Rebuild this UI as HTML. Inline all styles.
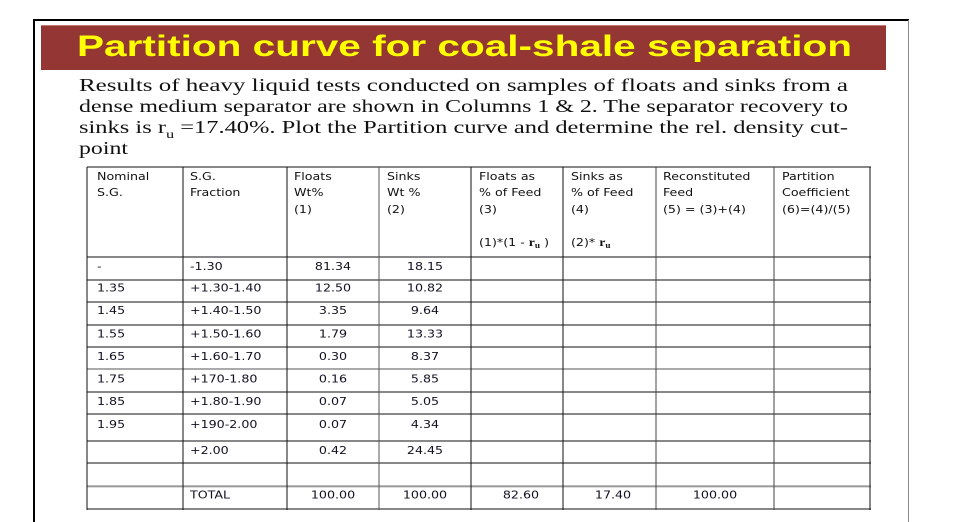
<!DOCTYPE html>
<html>
<head>
<meta charset="utf-8">
<style>
html,body{margin:0;padding:0;background:#fff;}
svg{display:block;}
.h{font-family:"DejaVu Sans","Liberation Sans",sans-serif;font-size:11px;fill:#111;}
.d{font-family:"DejaVu Sans","Liberation Sans",sans-serif;font-size:11px;fill:#111122;}
.p{font-family:"Liberation Serif","Times New Roman",serif;font-size:18px;fill:#111;}
.sr{font-family:"Liberation Serif",serif;}
</style>
</head>
<body>
<svg width="979" height="522" viewBox="0 0 979 522" xmlns="http://www.w3.org/2000/svg">
  <rect x="0" y="0" width="979" height="522" fill="#fff"/>
  <!-- frame -->
  <rect x="33" y="19" width="876" height="2" fill="#000"/>
  <rect x="33" y="19" width="2" height="503" fill="#000"/>
  <rect x="908" y="20" width="1" height="502" fill="#888"/>
  <!-- title bar -->
  <rect x="41" y="25" width="845" height="45" fill="#943634"/>
  <rect x="41" y="25" width="845" height="1" fill="#c87a78"/>
  <text x="77" y="56" font-family="Liberation Sans, DejaVu Sans, sans-serif" font-weight="bold" font-size="30" fill="#ffff00" textLength="775" lengthAdjust="spacingAndGlyphs">Partition curve for coal-shale separation</text>
  <!-- paragraph -->
  <text class="p" x="79" y="91" textLength="769" lengthAdjust="spacingAndGlyphs">Results of heavy liquid tests conducted on samples of floats and sinks from a</text>
  <text class="p" x="79" y="112" textLength="769" lengthAdjust="spacingAndGlyphs">dense medium separator are shown in Columns 1 &amp; 2. The separator recovery to</text>
  <text class="p" x="79" y="133" textLength="769" lengthAdjust="spacingAndGlyphs">sinks is r<tspan dy="5" font-size="12">u</tspan><tspan dy="-5"> =17.40%. Plot the Partition curve and determine the rel. density cut-</tspan></text>
  <text class="p" x="79" y="154" textLength="49" lengthAdjust="spacingAndGlyphs">point</text>

  <!-- table lines -->
  <g stroke="#111" stroke-width="1" shape-rendering="crispEdges">
    <line x1="87" y1="167" x2="871" y2="167"/>
    <line x1="87" y1="257" x2="871" y2="257"/>
    <line x1="87" y1="280" x2="871" y2="280"/>
    <line x1="87" y1="302" x2="871" y2="302"/>
    <line x1="87" y1="325" x2="871" y2="325"/>
    <line x1="87" y1="347" x2="871" y2="347"/>
    <line x1="87" y1="369" x2="871" y2="369" stroke="#555"/>
    <line x1="87" y1="392" x2="871" y2="392"/>
    <line x1="87" y1="414" x2="871" y2="414"/>
    <line x1="87" y1="441" x2="871" y2="441"/>
    <line x1="87" y1="463" x2="871" y2="463"/>
    <line x1="87" y1="486" x2="871" y2="486" stroke="#777"/>
    <line x1="87" y1="487" x2="871" y2="487" stroke="#bbb"/>
    <line x1="87" y1="509" x2="871" y2="509"/>
    <line x1="87" y1="167" x2="87" y2="510"/>
    <line x1="183" y1="167" x2="183" y2="510"/>
    <line x1="287" y1="167" x2="287" y2="510"/>
    <line x1="379" y1="167" x2="379" y2="510" stroke="#555"/>
    <line x1="471" y1="167" x2="471" y2="510"/>
    <line x1="563" y1="167" x2="563" y2="510"/>
    <line x1="656" y1="167" x2="656" y2="510" stroke="#444"/>
    <line x1="774" y1="167" x2="774" y2="510" stroke="#444"/>
    <line x1="870" y1="167" x2="870" y2="510"/>
  </g>

  <!-- header (horizontally stretched 1.15) -->
  <g class="h" transform="scale(1.15,1)">
    <text x="84.35" y="180">Nominal</text>
    <text x="84.35" y="196">S.G.</text>
    <text x="165.22" y="180">S.G.</text>
    <text x="165.22" y="196">Fraction</text>
    <text x="255.65" y="180">Floats</text>
    <text x="255.65" y="196">Wt%</text>
    <text x="255.65" y="213">(1)</text>
    <text x="336.52" y="180">Sinks</text>
    <text x="336.52" y="196">Wt %</text>
    <text x="336.52" y="213">(2)</text>
    <text x="416.52" y="180">Floats as</text>
    <text x="416.52" y="196">% of Feed</text>
    <text x="416.52" y="213">(3)</text>
    <text x="416.52" y="246">(1)*(1 - <tspan class="sr" font-size="12" font-weight="bold">r</tspan><tspan class="sr" font-size="8" font-weight="bold" dy="2">u</tspan><tspan dy="-2">  )</tspan></text>
    <text x="496.52" y="180">Sinks as</text>
    <text x="496.52" y="196">% of Feed</text>
    <text x="496.52" y="213">(4)</text>
    <text x="496.52" y="246">(2)* <tspan class="sr" font-size="12" font-weight="bold">r</tspan><tspan class="sr" font-size="8" font-weight="bold" dy="2">u</tspan></text>
    <text x="576.52" y="180">Reconstituted</text>
    <text x="576.52" y="196">Feed</text>
    <text x="576.52" y="213">(5) = (3)+(4)</text>
    <text x="680" y="180">Partition</text>
    <text x="680" y="196">Coefficient</text>
    <text x="680" y="213">(6)=(4)/(5)</text>
  </g>

  <!-- data -->
  <g class="d" transform="scale(1.15,1)">
    <text x="84.35" y="270">-</text>
    <text x="165.22" y="270">-1.30</text>
    <text x="289.57" y="270" text-anchor="middle">81.34</text>
    <text x="369.57" y="270" text-anchor="middle">18.15</text>

    <text x="84.35" y="291.5">1.35</text>
    <text x="165.22" y="291.5">+1.30-1.40</text>
    <text x="289.57" y="291.5" text-anchor="middle">12.50</text>
    <text x="369.57" y="291.5" text-anchor="middle">10.82</text>

    <text x="84.35" y="314">1.45</text>
    <text x="165.22" y="314">+1.40-1.50</text>
    <text x="289.57" y="314" text-anchor="middle">3.35</text>
    <text x="369.57" y="314" text-anchor="middle">9.64</text>

    <text x="84.35" y="337.5">1.55</text>
    <text x="165.22" y="337.5">+1.50-1.60</text>
    <text x="289.57" y="337.5" text-anchor="middle">1.79</text>
    <text x="369.57" y="337.5" text-anchor="middle">13.33</text>

    <text x="84.35" y="360">1.65</text>
    <text x="165.22" y="360">+1.60-1.70</text>
    <text x="289.57" y="360" text-anchor="middle">0.30</text>
    <text x="369.57" y="360" text-anchor="middle">8.37</text>

    <text x="84.35" y="382.5">1.75</text>
    <text x="165.22" y="382.5">+170-1.80</text>
    <text x="289.57" y="382.5" text-anchor="middle">0.16</text>
    <text x="369.57" y="382.5" text-anchor="middle">5.85</text>

    <text x="84.35" y="405">1.85</text>
    <text x="165.22" y="405">+1.80-1.90</text>
    <text x="289.57" y="405" text-anchor="middle">0.07</text>
    <text x="369.57" y="405" text-anchor="middle">5.05</text>

    <text x="84.35" y="428">1.95</text>
    <text x="165.22" y="428">+190-2.00</text>
    <text x="289.57" y="428" text-anchor="middle">0.07</text>
    <text x="369.57" y="428" text-anchor="middle">4.34</text>

    <text x="165.22" y="454">+2.00</text>
    <text x="289.57" y="454" text-anchor="middle">0.42</text>
    <text x="369.57" y="454" text-anchor="middle">24.45</text>

    <text x="165.22" y="498.5">TOTAL</text>
    <text x="289.57" y="498.5" text-anchor="middle">100.00</text>
    <text x="369.57" y="498.5" text-anchor="middle">100.00</text>
    <text x="453.04" y="498.5" text-anchor="middle">82.60</text>
    <text x="533.04" y="498.5" text-anchor="middle">17.40</text>
    <text x="621.74" y="498.5" text-anchor="middle">100.00</text>
  </g>
</svg>
</body>
</html>
